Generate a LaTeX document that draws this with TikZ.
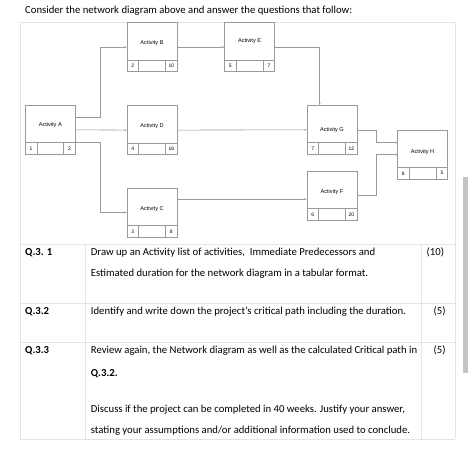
\documentclass[tikz,border=0pt]{standalone}
\usepackage{fontspec}
\setmainfont{Carlito}
\newfontfamily\diagfont{Liberation Sans}
\usetikzlibrary{arrows.meta}
\definecolor{boxgray}{HTML}{9A9A9A}
\definecolor{rulegray}{HTML}{E4E4E4}
\definecolor{bargray}{HTML}{C4C4C4}
\tikzset{
  actbox/.style={draw=boxgray, line width=0.6pt, inner sep=0pt, minimum width=50pt, minimum height=49pt, anchor=north west},
  boxline/.style={draw=boxgray, line width=0.6pt},
  conn/.style={draw=boxgray, line width=0.6pt, -{Stealth[length=2.2pt,width=2pt]}},
  lbl/.style={font=\diagfont\fontsize{5.6}{6}\selectfont, inner sep=0pt},
  num/.style={font=\diagfont\fontsize{5}{6}\selectfont, inner sep=0pt},
  rule/.style={draw=rulegray, line width=0.6pt},
  qtext/.style={font=\fontsize{10.7}{12}\selectfont, anchor=base west, inner sep=0pt},
  qbold/.style={qtext, font=\bfseries\fontsize{10.7}{12}\selectfont},
}
\newcommand\ActBox[7]{%
  \node[actbox] (#1) at (#2,#3) {};
  \draw[boxline] ([yshift=12pt]#1.south west) -- ([yshift=12pt]#1.south east);
  \draw[boxline] ([xshift=12pt]#1.south west) -- ([xshift=12pt,yshift=12pt]#1.south west);
  \draw[boxline] ([xshift=-12pt]#1.south east) -- ([xshift=-12pt,yshift=12pt]#1.south east);
  \node[lbl] (#1lbl) at ([yshift=-#7pt]#1.north) {#4};
  \node[num] (#1es) at ([xshift=6pt,yshift=6pt]#1.south west) {#5};
  \node[num] (#1du) at ([xshift=-6pt,yshift=6pt]#1.south east) {#6};
}
\begin{document}
\begin{tikzpicture}[x=1pt,y=-1pt]
\useasboundingbox (0,0) rectangle (474,450);
\fill[white] (0,0) rectangle (474,450);

% frame and table rules
\draw[rule] (20,22) -- (455,22);
\draw[rule] (20,22) -- (20,439);
\draw[rule] (455,22) -- (455,439);
\draw[rule] (20,244) -- (455,244);
\draw[rule] (20,303) -- (455,303);
\draw[rule] (20,342.5) -- (455,342.5);
\draw[rule] (20,439) -- (455,439);
\draw[rule] (85,244) -- (85,439);
\draw[rule] (421,244) -- (421,439);

% scrollbar
\fill[bargray] (463,177) rectangle (468,373);

% title
\node[qtext] (title) at (25,13.5) {Consider the network diagram above and answer the questions that follow:};

% activity boxes
\ActBox{A}{25}{105}{Activity A}{1}{2}{20}
\ActBox{B}{126.7}{22.3}{Activity B}{2}{10}{21}
\ActBox{E}{224.3}{22.3}{Activity E}{5}{7}{19}
\ActBox{D}{126.7}{105.3}{Activity D}{4}{16}{21}
\ActBox{C}{126.7}{187.7}{Activity C}{3}{8}{21.5}
\ActBox{G}{306.7}{105}{Activity G}{7}{12}{25}
\ActBox{F}{306.7}{170.7}{Activity F}{6}{20}{21.5}
\ActBox{H}{397.3}{129.7}{Activity H}{8}{5}{22}

% connectors
\draw[conn] ([yshift=-12pt]A.north east) -| ([xshift=-26.7pt]B.west) -- (B.west);
\draw[conn] (A.east) -- (D.west);
\draw[conn] ([yshift=12pt]A.south east) -| ([xshift=-26.7pt]C.west) -- (C.west);
\draw[conn] (B.east) -- (E.west);
\draw[conn] (E.east) -| ([xshift=-12.4pt]G.north);
\draw[conn] (D.east) -- (G.west);
\coordinate (cf) at ([yshift=-11.3pt]C.north east);
\draw[conn] (cf) -- (cf -| F.west);
\draw[conn] (G.east) -| ([xshift=-20.6pt,yshift=12pt]H.west) -- ([yshift=12pt]H.west);
\draw[conn] (F.east) -| ([xshift=-20.6pt]H.west) -- (H.west);

% questions
\node[qbold] (q1) at (25,255) {Q.3. 1};
\node[qtext] (q1a) at (90.7,255) {Draw up an Activity list of activities,\ \ Immediate Predecessors and};
\node[qtext] (q1b) at (90.7,276.5) {Estimated duration for the network diagram in a tabular format.};
\node[qtext] (m1) at (426.5,255) {(10)};

\node[qbold] (q2) at (25,314) {Q.3.2};
\node[qtext] (q2a) at (90.7,314) {Identify and write down the project’s critical path including the duration.};
\node[qtext] (m2) at (433.5,314) {(5)};

\node[qbold] (q3) at (25,353.5) {Q.3.3};
\node[qtext] (q3a) at (90.7,353.5) {Review again, the Network diagram as well as the calculated Critical path in};
\node[qbold] (q3b) at (90.7,376) {Q.3.2.};
\node[qtext] (m3) at (433.5,353.5) {(5)};
\node[qtext] (q3c) at (90.7,412.5) {Discuss if the project can be completed in 40 weeks. Justify your answer,};
\node[qtext] (q3d) at (90.7,433) {stating your assumptions and/or additional information used to conclude.};
\end{tikzpicture}
\end{document}
